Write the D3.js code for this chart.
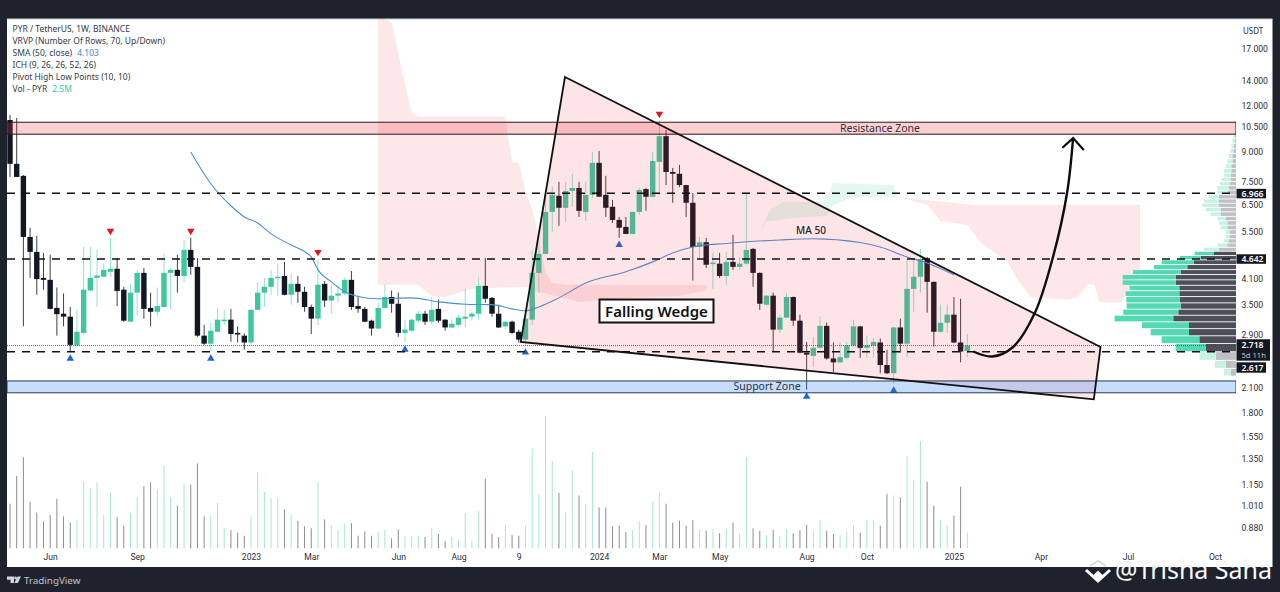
<!DOCTYPE html>
<html>
<head>
  <meta charset="utf-8">
  <title>PYR / TetherUS falling wedge</title>
  <style>
    body { margin: 0; background: #1e222d; }
    svg { display: block; }
    text { font-family: "Noto Sans", sans-serif; }
    .axis text { font-size: 8.6px; fill: #2a2e39; font-family: Roboto, sans-serif; }
  </style>
</head>
<body>
  <svg width="1280" height="592"></svg>
  <script src="https://d3js.org/d3.v7.min.js"></script>
  <script>
    // weekly candles, one entry per week starting at week 0
    const opens = [10.96,8.36,7.76,5.32,4.85,4.13,4.08,3.43,3.31,3.25,
      2.72,2.94,3.82,4.13,4.16,4.29,4.37,3.84,3.15,3.77,
      4.26,3.43,3.35,3.45,4.26,4.34,4.18,4.91,4.42,2.89,
      2.75,2.96,3.17,3.19,2.94,2.89,2.77,3.39,3.77,3.91,
      4.13,4.18,3.72,3.98,3.79,3.45,3.21,3.98,3.59,3.70,
      3.75,4.08,3.47,3.41,3.17,3.02,3.43,3.67,3.52,2.94,
      2.98,3.17,3.31,3.15,3.41,3.19,3.04,3.09,3.21,3.25,
      3.31,3.93,3.65,3.31,3.06,3.15,2.96,2.82,3.19,4.26,
      4.79,6.21,6.86,6.37,7.07,7.20,6.21,6.90,8.41,6.90,
      6.41,5.91,5.66,5.42,6.21,7.15,6.82,8.46,9.92,7.95,
      7.86,7.33,6.57,5.0,5.15,4.51,4.51,4.18,4.56,4.42,
      4.51,4.94,4.26,3.50,3.70,3.0,3.23,3.67,3.17,2.60,
      2.55,2.68,3.07,2.51,2.45,2.52,2.72,3.06,2.68,2.72,
      2.77,2.41,2.29,3.04,2.75,3.86,4.16,4.64,4.03,2.96,
      3.13,3.29,2.77,2.63];
    const closes = [8.36,7.71,5.32,4.85,4.10,4.08,3.41,3.30,3.25,2.73,
      2.96,3.84,4.13,4.19,4.34,4.37,3.81,3.17,3.77,4.26,
      3.41,3.35,3.47,4.26,4.34,4.18,4.91,4.42,2.89,2.75,
      2.98,3.19,3.19,2.92,2.91,2.77,3.39,3.77,3.91,4.13,
      4.16,3.72,3.98,3.79,3.45,3.21,3.96,3.59,3.70,3.75,
      4.08,3.45,3.41,3.15,3.02,3.43,3.67,3.52,2.94,3.0,
      3.19,3.31,3.15,3.39,3.17,3.04,3.11,3.23,3.25,3.31,
      3.93,3.63,3.31,3.04,3.15,2.94,2.82,3.21,4.26,4.79,
      6.21,6.90,6.37,7.07,7.20,6.25,6.90,8.41,6.82,6.37,
      5.91,5.63,5.42,6.21,7.11,6.82,8.51,9.92,7.95,7.86,
      7.33,6.57,5.0,5.15,4.48,4.54,4.18,4.56,4.42,4.51,
      4.91,4.26,3.52,3.70,3.0,3.23,3.67,3.17,2.60,2.57,
      2.68,3.07,2.51,2.45,2.53,2.72,3.06,2.68,2.72,2.78,
      2.41,2.29,3.04,2.75,3.86,4.16,4.64,4.03,2.96,3.13,
      3.29,2.77,2.62,2.718];
    const highs = [11.3,11.1,7.80,5.63,5.36,4.82,4.77,3.89,3.75,3.45,
      3.39,5.0,5.0,4.91,4.51,5.29,4.67,3.91,3.98,4.34,
      4.39,3.77,3.89,4.79,4.39,4.76,5.22,5.29,4.67,3.09,
      3.13,3.43,3.39,3.41,3.06,2.93,3.40,4.03,4.13,4.34,
      4.51,4.56,4.24,4.18,3.91,3.50,4.64,4.05,3.96,3.96,
      4.13,4.31,3.70,3.45,3.19,3.54,3.96,3.82,3.77,3.19,
      3.20,3.37,3.37,3.67,3.61,3.20,3.19,3.29,3.87,3.35,
      4.16,4.67,3.67,3.50,3.16,3.17,3.00,3.39,4.91,5.0,
      6.98,7.28,7.48,7.48,7.86,7.48,7.48,9.0,9.05,7.76,
      6.69,6.02,6.02,6.22,7.20,7.20,9.0,10.9,10.3,8.15,
      8.30,7.34,6.98,5.32,5.29,4.82,4.82,4.85,5.39,4.70,
      6.98,4.97,4.27,3.72,3.77,3.29,3.75,3.68,3.29,2.78,
      2.87,3.25,3.13,2.77,2.77,2.78,3.19,3.07,2.89,2.84,
      2.84,2.65,3.05,3.21,4.62,4.62,4.94,4.70,4.04,3.50,
      3.50,3.67,3.63,2.92];
    const lows = [7.71,7.7,3.06,4.13,3.72,3.84,3.40,2.89,3.06,2.62,
      2.70,2.91,3.81,3.45,4.13,4.16,3.47,3.15,3.14,3.26,
      3.21,3.06,3.25,3.44,3.41,3.77,4.03,4.21,2.87,2.73,
      2.62,2.95,3.09,2.78,2.77,2.65,2.73,3.38,3.45,3.72,
      3.70,3.71,3.50,3.54,3.35,2.92,3.09,3.45,3.31,3.54,
      3.70,3.39,3.33,3.14,2.89,3.01,3.42,3.33,2.87,2.77,
      2.97,3.13,3.09,3.09,3.13,2.98,3.03,3.06,3.04,3.17,
      3.19,3.54,3.25,3.03,3.00,2.92,2.77,2.72,3.09,3.77,
      4.78,5.49,5.70,5.84,6.41,6.02,5.87,6.77,6.81,6.02,
      5.80,5.29,5.41,5.41,6.10,6.25,6.81,6.90,7.33,6.57,
      7.24,6.02,4.06,4.67,4.39,3.86,4.13,3.96,4.34,4.34,
      4.48,3.91,3.39,3.47,2.62,2.94,3.22,3.07,2.59,2.07,
      2.38,2.67,2.49,2.31,2.44,2.49,2.70,2.52,2.52,2.52,
      2.29,2.28,2.15,2.60,2.53,3.35,3.77,3.33,2.70,2.94,
      2.94,2.76,2.45,2.53];
    // volume in millions
    const volumes = [7.1,11.5,14.5,7.4,5.7,4.3,5.3,7.9,5.1,4.1,
      4.5,10.6,9.6,10.5,5.3,8.9,4.9,3.6,5.7,8.2,
      9.9,10.5,9.4,13.2,8.2,6.8,10.2,10.1,13.5,5.1,
      5.2,7.2,3.2,2.9,2.5,2.0,5.1,12.1,9.0,8.0,
      8.0,6.2,5.3,4.4,3.5,3.2,10.6,4.6,3.6,2.9,
      4.0,4.0,2.0,2.7,2.0,2.6,3.0,1.6,3.0,2.0,
      2.0,2.0,1.8,3.2,2.3,1.1,1.8,1.3,5.6,1.2,
      5.9,11.1,2.3,1.8,3.7,2.1,2.0,3.6,15.9,8.5,
      21.1,13.9,8.8,5.7,12.4,8.4,7.1,15.3,6.5,6.5,
      3.5,3.6,2.6,2.9,4.3,3.7,7.4,8.9,7.1,4.1,
      4.4,3.6,4.5,3.0,2.8,3.0,2.4,3.2,4.1,2.4,
      14.5,3.2,2.8,2.1,2.9,2.0,3.1,2.4,2.9,3.7,
      2.7,4.5,2.8,2.3,2.1,2.7,3.6,2.5,4.5,4.4,
      3.6,8.7,8.4,8.1,14.7,10.9,17.1,10.6,6.8,4.5,
      3.7,5.2,9.8,2.5];

    // SMA 50
    const smaWeeks = [27,30,33,35,37,39,42,45,46,48,50,52,55,60,64,68,72,75,77,79,82,86,92,96,99,102,107,115,120,127,130,134,137,141];
    const smaValues = [8.99,7.39,6.45,6.02,5.80,5.42,5.06,4.70,4.34,4.03,3.79,3.68,3.63,3.65,3.56,3.51,3.50,3.41,3.37,3.45,3.65,4.0,4.29,4.56,4.82,5.0,5.11,5.22,5.26,5.14,5.0,4.70,4.53,4.21];

    // Ichimoku cloud outlines (week, price)
    const cloudAWeeks = [55,57,59,60,61,74,74.5,75,76,77,78,79,80,81,83,104,104,100,92,85,79,77,69,65,63,61,55];
    const cloudAPrices = [21,20.05,13.6,11.45,11.2,11.2,9.57,8.41,8.41,7.03,6.29,5.29,4.28,4.0,3.96,3.96,3.82,3.70,3.65,3.56,3.79,3.91,3.86,3.67,3.70,3.96,3.96];
    const cloudBWeeks = [112,113.5,115.5,121.5,123,132,132.5,126,123,122,117,113];
    const cloudBPrices = [5.46,6.29,6.60,6.60,7.42,7.33,6.81,6.81,6.49,6.06,5.98,5.84];
    const cloudCWeeks = [133,135,144,168.8,168.8,166,162.7,162,161,159.5,158,152.5,150.5,149,145,143,139,137];
    const cloudCPrices = [6.81,6.73,6.49,6.49,4.34,3.54,3.56,3.96,3.98,3.67,3.61,3.67,4.08,4.56,5.13,5.73,5.87,6.49];

    // pivots
    const pivotHighWeeks = [15,27,46,97];
    const pivotLowWeeks = [9,30,59,77,91,119,132];

    // drawn annotations (week, price)
    const wedgeWeeks = [82.9,162.9,161.9,76.3];
    const wedgePrices = [14.3,2.695,1.95,2.78];
    const arrowWeeks = [143.9,146.7,149.8,153.1,155.8,157.9,158.8];
    const arrowPrices = [2.62,2.54,2.69,3.33,4.70,6.98,9.8];
    const arrowHeadWeeks = [157.2,158.8,160.4];
    const arrowHeadPrices = [9.23,9.8,9.11];
    const resistanceZone = [10.81,10.04];
    const supportZone = [2.184,2.03];
    const levels = [6.966,4.642,2.617];
    const lastPrice = 2.718;

    // visible range volume profile
    const vpPrices = [2.30,2.41,2.54,2.68,2.81,2.95,3.07,3.21,3.33,3.46,3.60,3.74,3.87,4.00,4.14,4.27,4.40,4.55,4.66,4.80,4.91,5.04,5.18,5.31,5.46,5.63,5.78,5.95,6.10,6.29,6.45,6.62,6.80,6.98,7.19,7.38,7.57,7.76,7.97,8.22,8.47,8.74,9.03,9.32,9.62,9.93];
    const vpUp = [6.7,11,16.3,30,37.7,38.3,47,58.7,55,54,53.7,53.7,49.7,53,53,47.7,33.3,32.3,21,19.3,15,10,5,4.3,4.3,6.7,8.3,8.3,10,15,16.7,15,10,10,11.7,10,9.3,6.7,7.3,5.7,5,3.3,2.7,2.7,2.3,1.7];
    const vpDown = [5.3,10.3,20.3,30.3,36.7,47,47,62.7,57.7,55.3,56,56.7,56.7,60.3,60.3,55.3,48.7,42,35.3,22,17,8.7,7,6,6,8.7,8.7,10.3,15.3,15.3,17,17,17,8.7,7,6,5.3,5.3,4.7,4.7,3.7,3.7,2.7,2,1.3,1];
    const valueArea = [2.6,4.85];

    // axes
    const priceTicks = [17,14,12,10.5,9,7.5,6.5,5.5,4.1,3.5,2.9,2.1,1.8,1.55,1.35,1.15,1.01,0.88];
    const timeWeeks = [6,19,36,45,58,67,76,88,97,106,119,128,141,154,167,180];
    const timeLabels = ["Jun","Sep","2023","Mar","Jun","Aug","9","2024","Mar","May","Aug","Oct","2025","Apr","Jul","Oct"];

    const legendLines = ["PYR / TetherUS, 1W, BINANCE","VRVP (Number Of Rows, 70, Up/Down)","SMA (50, close)","ICH (9, 26, 26, 52, 26)","Pivot High Low Points (10, 10)","Vol - PYR"];

    const plotL = 7, plotR = 1236, plotT = 19, plotB = 567, frameR = 1272.5;
    const green = "#3ec79f", black = "#131722";

    const x = d3.scaleLinear().domain([0,143]).range([10,967.3]);
    const y = d3.scaleLog().domain([17,0.88]).range([49,528]);
    const yVol = d3.scaleLinear().domain([0,25]).range([548.3,391.3]);
    const xVp = d3.scaleLinear().domain([0,100]).range([0,100]);

    const svg = d3.select("svg");
    svg.append("rect").attr("width",1280).attr("height",592).attr("fill","#1e222d");
    svg.append("rect").attr("x",plotL).attr("y",plotT).attr("width",frameR-plotL).attr("height",plotB-plotT).attr("fill","#fff");
    svg.append("line").attr("x1",plotL).attr("x2",frameR).attr("y1",plotT).attr("y2",plotT).attr("stroke","#cfd1d6");

    svg.append("clipPath").attr("id","plot").append("rect")
      .attr("x",plotL).attr("y",plotT).attr("width",plotR-plotL).attr("height",plotB-plotT);
    const g = svg.append("g").attr("clip-path","url(#plot)");

    const outline = d3.line().x(d => x(d[0])).y(d => y(d[1]));
    const pairs = (a, b) => a.map((v, i) => [v, b[i]]);

    // cloud
    g.append("path").attr("d", outline(pairs(cloudAWeeks, cloudAPrices)) + "Z").attr("fill","#f23645").attr("opacity",0.12);
    g.append("path").attr("d", outline(pairs(cloudBWeeks, cloudBPrices)) + "Z").attr("fill","#22c48f").attr("opacity",0.12);
    g.append("path").attr("d", outline(pairs(cloudCWeeks, cloudCPrices)) + "Z").attr("fill","#f23645").attr("opacity",0.12);

    // volume profile
    const vpRows = vpPrices.map((p, i) => {
      const prev = i > 0 ? vpPrices[i-1] : p - (vpPrices[1]-p);
      const next = i < vpPrices.length-1 ? vpPrices[i+1] : p + (p-vpPrices[i-1]);
      return { p, up: vpUp[i], down: vpDown[i], y0: y(Math.sqrt(p*prev)), y1: y(Math.sqrt(p*next)) };
    });
    const vp = g.append("g");
    vpRows.forEach(r => {
      const active = r.p > valueArea[0] && r.p < valueArea[1];
      const h = r.y0 - r.y1 - 0.9;
      vp.append("rect").attr("x", plotR - xVp(r.down)).attr("y", r.y1).attr("width", xVp(r.down)).attr("height", h)
        .attr("fill", active ? "#4d5058" : "#bfc0c4");
      vp.append("rect").attr("x", plotR - xVp(r.down) - xVp(r.up)).attr("y", r.y1).attr("width", xVp(r.up)).attr("height", h)
        .attr("fill", active ? "#55d9b2" : "#c9f2e6");
    });

    // volume bars
    g.selectAll(".vol").data(volumes).enter().append("line").attr("class","vol")
      .attr("x1",(d,i) => x(i)).attr("x2",(d,i) => x(i))
      .attr("y1",yVol(0)).attr("y2",d => yVol(d))
      .attr("stroke",(d,i) => closes[i] >= opens[i] ? "#a9e6d5" : "#8a8c90").attr("stroke-width",1);

    // candles
    const candle = g.selectAll(".candle").data(opens.map((o,i) => ({ i, o, c: closes[i], h: highs[i], l: lows[i] })))
      .enter().append("g").attr("class","candle");
    candle.append("line")
      .attr("x1",d => x(d.i)).attr("x2",d => x(d.i)).attr("y1",d => y(d.h)).attr("y2",d => y(d.l))
      .attr("stroke",d => d.c >= d.o ? "#93e2cb" : "#3e4048").attr("stroke-width",1);
    candle.append("rect")
      .attr("x",d => x(d.i)-2.7).attr("width",5.4)
      .attr("y",d => y(Math.max(d.o,d.c)))
      .attr("height",d => Math.max(1.5, y(Math.min(d.o,d.c)) - y(Math.max(d.o,d.c))))
      .attr("fill",d => d.c >= d.o ? green : black);

    // SMA
    g.append("path").attr("d", d3.line().x(d => x(d[0])).y(d => y(d[1])).curve(d3.curveMonotoneX)(pairs(smaWeeks, smaValues)))
      .attr("fill","none").attr("stroke","#4d8fd1").attr("stroke-width",1.1);

    // pivots
    const tri = d3.symbol().type(d3.symbolTriangle).size(24);
    pivotHighWeeks.forEach(w => {
      g.append("path").attr("d",tri()).attr("fill","#e3161f")
        .attr("transform",`translate(${x(w)},${y(highs[w])-7}) rotate(180)`);
    });
    pivotLowWeeks.forEach(w => {
      g.append("path").attr("d",tri()).attr("fill","#1d66d2")
        .attr("transform",`translate(${x(w)},${y(lows[w])+7})`);
    });

    // zones and wedge sit over the candles
    g.append("path").attr("d", outline(pairs(wedgeWeeks, wedgePrices)) + "Z").attr("fill","#f23645").attr("opacity",0.13);
    g.append("rect").attr("x",plotL).attr("width",plotR-plotL).attr("y",y(resistanceZone[0])).attr("height",y(resistanceZone[1])-y(resistanceZone[0]))
      .attr("fill","#f23645").attr("fill-opacity",0.24).attr("stroke","#2a1c1c").attr("stroke-width",1);
    g.append("rect").attr("x",plotL).attr("width",plotR-plotL).attr("y",y(supportZone[0])).attr("height",y(supportZone[1])-y(supportZone[0]))
      .attr("fill","#2178f3").attr("fill-opacity",0.25).attr("stroke","#2b3a4e").attr("stroke-width",1);

    // levels
    levels.forEach(p => {
      g.append("line").attr("x1",plotL).attr("x2",plotR).attr("y1",y(p)).attr("y2",y(p))
        .attr("stroke","#111").attr("stroke-width",1.6).attr("stroke-dasharray","8 7");
    });
    g.append("line").attr("x1",plotL).attr("x2",plotR).attr("y1",y(lastPrice)).attr("y2",y(lastPrice))
      .attr("stroke","#444").attr("stroke-width",0.8).attr("stroke-dasharray","1 1");

    g.append("path").attr("d", outline(pairs(wedgeWeeks, wedgePrices)) + "Z").attr("fill","none").attr("stroke","#111").attr("stroke-width",1.8);

    // arrow
    g.append("path").attr("d", d3.line().x(d => x(d[0])).y(d => y(d[1])).curve(d3.curveCatmullRom)(pairs(arrowWeeks, arrowPrices)))
      .attr("fill","none").attr("stroke","#0d0d0d").attr("stroke-width",2.4);
    g.append("path").attr("d", outline(pairs(arrowHeadWeeks, arrowHeadPrices)))
      .attr("fill","none").attr("stroke","#0d0d0d").attr("stroke-width",2.2);

    // annotation labels
    svg.append("text").attr("x",880).attr("y",y(10.4)+3.5).attr("text-anchor","middle").attr("font-size",10.5).attr("fill","#2c3340").text("Resistance Zone");
    svg.append("text").attr("x",767).attr("y",y(2.105)+3.5).attr("text-anchor","middle").attr("font-size",10.5).attr("fill","#2c3340").text("Support Zone");
    svg.append("text").attr("x",811).attr("y",234).attr("text-anchor","middle").attr("font-size",10).attr("font-weight",500).attr("fill","#222").text("MA 50");
    svg.append("rect").attr("x",599.5).attr("y",299.5).attr("width",114).attr("height",23).attr("fill","#fff").attr("stroke","#111").attr("stroke-width",2);
    svg.append("text").attr("x",656.5).attr("y",316.5).attr("text-anchor","middle").attr("font-size",15).attr("font-weight",600).attr("fill","#111").text("Falling Wedge");

    // legend
    legendLines.forEach((t, i) => {
      const line = svg.append("text").attr("x",12.5).attr("y",32+i*11.9).attr("font-size",8.5).attr("font-family","Roboto, sans-serif").attr("fill","#363a45");
      line.append("tspan").text(t);
      if (i === 2) line.append("tspan").attr("dx",5).attr("fill","#3f86cf").text("4.103");
      if (i === 5) line.append("tspan").attr("dx",5).attr("fill","#35cba4").text("2.5M");
    });

    // price axis
    const axisY = svg.append("g").attr("class","axis").attr("transform",`translate(1241.5,0)`)
      .call(d3.axisRight(y).tickValues(priceTicks).tickFormat(d3.format(".3f")).tickSize(0).tickPadding(0));
    axisY.select(".domain").remove();
    svg.append("text").attr("x",1243).attr("y",34).attr("font-size",8).attr("font-family","Roboto, sans-serif").attr("fill","#2a2e39").text("USDT");

    // time axis
    const axisX = svg.append("g").attr("class","axis").attr("transform",`translate(0,${plotB-18})`)
      .call(d3.axisBottom(x).tickValues(timeWeeks).tickFormat((d,i) => timeLabels[i]).tickSize(0).tickPadding(5));
    axisX.select(".domain").remove();

    // price tags
    const tag = (boxTop, h, w, label, extra) => {
      svg.append("rect").attr("x",1236.5).attr("y",boxTop).attr("width",w).attr("height",h).attr("fill","#131722");
      svg.append("text").attr("x",1241.5).attr("y",boxTop+(extra ? 9 : h/2+3.2)).attr("font-size",8.6).attr("font-weight",600)
        .attr("font-family","Roboto, sans-serif").attr("fill","#fff").text(label);
      if (extra) svg.append("text").attr("x",1241.5).attr("y",boxTop+19).attr("font-size",7.6)
        .attr("font-family","Roboto, sans-serif").attr("fill","#c4c6cd").text(extra);
    };
    tag(y(levels[0])-4.5, 9.5, 29.5, d3.format(".3f")(levels[0]));
    tag(y(levels[1])-4.7, 9.5, 29.5, d3.format(".3f")(levels[1]));
    tag(362.3, 10.4, 29.5, d3.format(".3f")(levels[2]));
    tag(y(lastPrice)-6.3, 21.4, 33.5, d3.format(".3f")(lastPrice), "5d 11h");

    // TradingView mark
    const mark = svg.append("g").attr("fill","#d1d4dc");
    mark.append("path").attr("d","M7 576.5h7v6.5h-3.5v-3.2H7z");
    mark.append("circle").attr("cx",15.6).attr("cy",578).attr("r",1.4);
    mark.append("path").attr("d","M17.6 576.5h3.4l-3.2 6.5h-3.4z");
    svg.append("text").attr("x",24).attr("y",583.5).attr("font-size",9.8).attr("fill","#c3c6ce").text("TradingView");

    // watermark
    const wm = svg.append("g").attr("fill","none").attr("stroke","#fff");
    wm.append("path").attr("d","M1086 570l12 11 12-11").attr("stroke-width",3);
    wm.append("path").attr("d","M1098 570.5l5 5-5 5-5-5z").attr("fill","#fff").attr("stroke","none");
    wm.append("path").attr("d","M1090 566l8-5 8 5").attr("stroke","#d9dbe0").attr("stroke-width",2);
    svg.append("text").attr("x",1115).attr("y",579).attr("font-size",25).attr("fill","#fff")
      .attr("stroke","#9a9da6").attr("stroke-opacity",0.35).attr("stroke-width",0.4).text("@Trisha Saha");
  </script>
</body>
</html>
